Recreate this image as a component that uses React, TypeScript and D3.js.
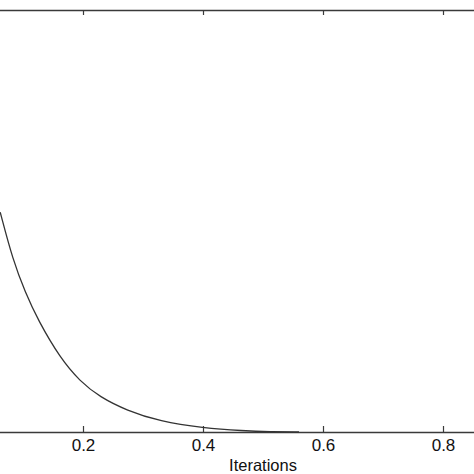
import React, { useRef, useEffect } from 'react';
import * as d3 from 'd3';

// curve (iterations fraction vs. normalised value)
const iterX = [0.062, 0.083, 0.104, 0.125, 0.162, 0.195, 0.228, 0.273, 0.328, 0.4, 0.467, 0.512, 0.56];
const errY = [0.521, 0.408, 0.33, 0.265, 0.175, 0.12, 0.083, 0.051, 0.025, 0.0095, 0.0028, 0.0006, 0.0];
const xTicks = [0.2, 0.4, 0.6, 0.8];
const xLabel = 'Iterations';

const W = 474;
const H = 474;
const AXIS = '#3a3a3a';
const FONT = "'Liberation Sans', Arial, Helvetica, sans-serif";

const App: React.FC = () => {
    const ref = useRef<SVGSVGElement>(null);

    useEffect(() => {
        if (!ref.current) return;
        const svg = d3.select(ref.current);
        svg.selectAll("*").remove();

        const margin = { top: 10, bottom: 42, left: -37, right: -89 };
        const width = W - margin.left - margin.right;
        const height = H - margin.top - margin.bottom;

        const g = svg.append("g").attr("transform", `translate(${margin.left},${margin.top})`);

        const x = d3.scaleLinear().domain([0, 1]).range([0, width]);
        const y = d3.scaleLinear().domain([0, 1]).range([height, 0]);

        const xAxis = g.append("g")
            .attr("transform", `translate(0,${height})`)
            .call(d3.axisBottom(x).tickValues(xTicks).tickFormat(d3.format('.1f')).tickSizeInner(-6).tickSizeOuter(0).tickPadding(7));
        xAxis.select(".domain").style("stroke", AXIS).style("stroke-width", 1.4);
        xAxis.selectAll("line").style("stroke", AXIS).style("stroke-width", 1.2);
        xAxis.selectAll("text")
            .style("fill", "#111")
            .style("font-family", FONT)
            .style("font-size", "17px");

        const topAxis = g.append("g")
            .call(d3.axisTop(x).tickValues(xTicks).tickFormat(() => '').tickSizeInner(-5).tickSizeOuter(0));
        topAxis.select(".domain").style("stroke", AXIS).style("stroke-width", 1.4);
        topAxis.selectAll("line").style("stroke", AXIS).style("stroke-width", 1.2);

        g.append("text")
            .attr("text-anchor", "middle")
            .attr("x", x(0.5))
            .attr("y", height + 39)
            .style("fill", "#111")
            .style("font-family", FONT)
            .style("font-size", "16.5px")
            .text(xLabel);

        const pts = iterX.map((v, i) => [v, errY[i]] as [number, number]);
        g.append("path")
            .datum(pts)
            .attr("fill", "none")
            .attr("stroke", "#333")
            .attr("stroke-width", 1.3)
            .attr("d", d3.line<[number, number]>().x(d => x(d[0])).y(d => y(d[1])).curve(d3.curveBasis) as any);
    }, []);

    return (
        <svg ref={ref} width={W} height={H}
            style={{ position: 'absolute', left: 0, top: 0, background: '#fff' }} />
    );
};

export default App;
